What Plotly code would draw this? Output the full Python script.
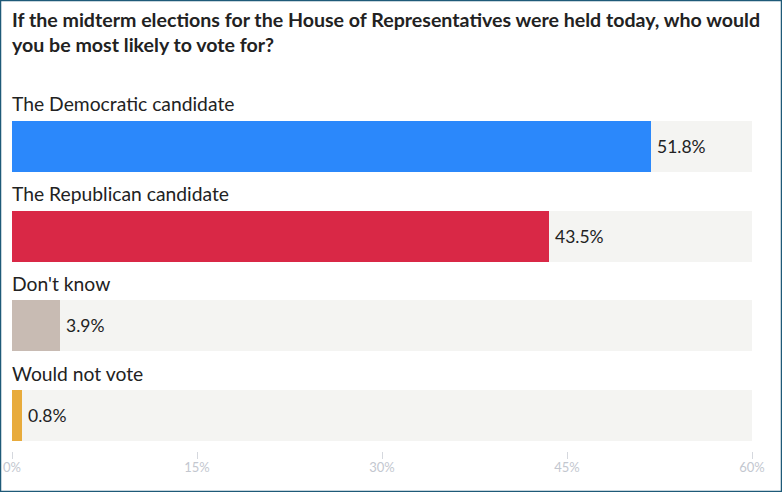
import plotly.graph_objects as go

categories = ["The Democratic candidate", "The Republican candidate", "Don't know", "Would not vote"]
values = [51.8, 43.5, 3.9, 0.8]
value_labels = ["51.8%", "43.5%", "3.9%", "0.8%"]
colors = ["#2b88fb", "#d92846", "#c8bbb3", "#e8ab3c"]
axis_max = 60
tick_vals = [0, 15, 30, 45, 60]
tick_text = ["0%", "15%", "30%", "45%", "60%"]
title = ("If the midterm elections for the House of Representatives were held today, who would"
         "<br>you be most likely to vote for?")

pos = list(range(len(categories)))
bw = 0.57
FONT = "Lato, 'Open Sans', sans-serif"
PLOT_TOP, PLOT_BOTTOM = 80, 451
PH = PLOT_BOTTOM - PLOT_TOP

fig = go.Figure()
fig.add_trace(go.Bar(
    y=pos, x=[axis_max] * len(pos), orientation="h", width=bw,
    marker=dict(color="#f4f4f2", line=dict(width=0)), hoverinfo="skip", showlegend=False))
fig.add_trace(go.Bar(
    y=pos, x=values, orientation="h", width=bw,
    marker=dict(color=colors, line=dict(width=0)), showlegend=False))

for p, c, v, vl in zip(pos, categories, values, value_labels):
    fig.add_annotation(x=0, y=p - bw / 2, xref="x", yref="y", text=c, showarrow=False,
                       xanchor="left", yanchor="middle", yshift=17, xshift=-2,
                       font=dict(family=FONT, size=19.3, color="#222222"))
    fig.add_annotation(x=v, y=p, xref="x", yref="y", text=vl, showarrow=False,
                       xanchor="left", yanchor="middle", xshift=4,
                       font=dict(family=FONT, size=17.5, color="#222222"))

fig.add_annotation(x=0, y=(PLOT_BOTTOM - 5.5) / PH, xref="paper", yref="paper", text=title,
                   showarrow=False, xanchor="left", yanchor="top", align="left", xshift=-2,
                   font=dict(family=FONT, size=19.6, color="#222222", weight="bold"))

# outer border
fig.add_shape(type="rect", xref="paper", yref="paper",
              x0=(0.5 - 12) / 740, x1=(781.5 - 12) / 740,
              y0=(PLOT_BOTTOM - 491.5) / PH, y1=(PLOT_BOTTOM - 0.5) / PH,
              line=dict(color="#1e5a78", width=1.5), fillcolor="rgba(0,0,0,0)", layer="above")

fig.update_layout(
    width=782, height=492,
    margin=dict(l=12, r=30, t=PLOT_TOP, b=492 - PLOT_BOTTOM, autoexpand=False),
    paper_bgcolor="white", plot_bgcolor="white",
    barmode="overlay", bargap=0,
    xaxis=dict(range=[0, axis_max], tickvals=tick_vals, ticktext=tick_text, automargin=False,
               showgrid=False, zeroline=False, showline=False,
               ticks="outside", ticklen=7, tickcolor="#d5d8de", tickwidth=1,
               ticklabelstandoff=-3,
               tickfont=dict(family=FONT, size=13, color="#c3c7cf")),
    yaxis=dict(range=[3.395, -0.741], showticklabels=False, showgrid=False, automargin=False,
               zeroline=False, showline=False),
    font=dict(family=FONT),
)

fig.write_html("out.html")
